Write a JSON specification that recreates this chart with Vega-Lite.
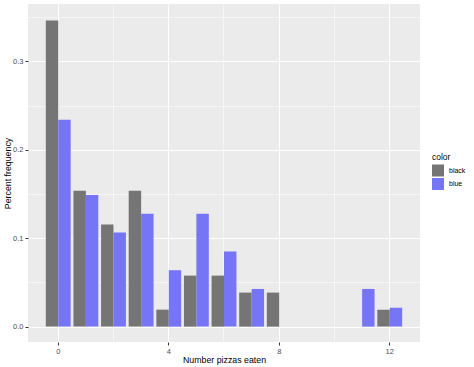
{
  "$schema": "https://vega.github.io/schema/vega-lite/v6.json",
  "width": 392,
  "height": 338,
  "autosize": {"type": "none"},
  "padding": {"left": 28, "top": 4, "right": 54, "bottom": 25},
  "background": "white",
  "config": {
    "font": "Liberation Sans",
    "view": {"fill": "#EBEBEB", "stroke": null},
    "axis": {
      "domain": false,
      "tickColor": "#333333",
      "tickSize": 3,
      "labelColor": "#4D4D4D",
      "labelFontSize": 7.5,
      "titleFontSize": 8.8,
      "titleFontWeight": "normal",
      "titleColor": "black",
      "gridColor": "white"
    },
    "legend": {
      "titleFontSize": 8.5,
      "titleFontWeight": "normal",
      "labelFontSize": 7,
      "labelColor": "black"
    }
  },
  "data": {
    "values": [
      {"pizzas": 0, "color": "black", "freq": 0.3462},
      {"pizzas": 1, "color": "black", "freq": 0.1538},
      {"pizzas": 2, "color": "black", "freq": 0.1154},
      {"pizzas": 3, "color": "black", "freq": 0.1538},
      {"pizzas": 4, "color": "black", "freq": 0.0192},
      {"pizzas": 5, "color": "black", "freq": 0.0577},
      {"pizzas": 6, "color": "black", "freq": 0.0577},
      {"pizzas": 7, "color": "black", "freq": 0.0385},
      {"pizzas": 8, "color": "black", "freq": 0.0385},
      {"pizzas": 12, "color": "black", "freq": 0.0192},
      {"pizzas": 0, "color": "blue", "freq": 0.2340},
      {"pizzas": 1, "color": "blue", "freq": 0.1489},
      {"pizzas": 2, "color": "blue", "freq": 0.1064},
      {"pizzas": 3, "color": "blue", "freq": 0.1277},
      {"pizzas": 4, "color": "blue", "freq": 0.0638},
      {"pizzas": 5, "color": "blue", "freq": 0.1277},
      {"pizzas": 6, "color": "blue", "freq": 0.0851},
      {"pizzas": 7, "color": "blue", "freq": 0.0426},
      {"pizzas": 11, "color": "blue", "freq": 0.0426},
      {"pizzas": 12, "color": "blue", "freq": 0.0213}
    ]
  },
  "mark": {"type": "bar"},
  "encoding": {
    "x": {
      "field": "pizzas",
      "type": "ordinal",
      "title": "Number pizzas eaten",
      "scale": {"domain": [0,1,2,3,4,5,6,7,8,9,10,11,12], "paddingInner": 0.1, "paddingOuter": 0.645},
      "axis": {
        "values": [0,2,4,6,8,10,12],
        "bandPosition": 0.5,
        "labelAngle": 0,
        "labelPadding": 2,
        "titlePadding": 1,
        "grid": true,
        "labelExpr": "datum.value % 4 == 0 ? datum.label : ''",
        "gridWidth": {"condition": {"test": "datum.value % 4 != 0", "value": 0.5}, "value": 1},
        "tickOpacity": {"condition": {"test": "datum.value % 4 != 0", "value": 0}, "value": 1}
      }
    },
    "xOffset": {
      "field": "color",
      "type": "nominal",
      "scale": {"domain": ["black", "blue"], "paddingInner": 0, "paddingOuter": 0}
    },
    "y": {
      "field": "freq",
      "type": "quantitative",
      "title": "Percent frequency",
      "scale": {"domain": [-0.0174, 0.365], "nice": false, "zero": false},
      "axis": {
        "values": [0, 0.05, 0.1, 0.15, 0.2, 0.25, 0.3, 0.35],
        "format": ".1f",
        "labelPadding": 2,
        "titlePadding": 0,
        "grid": true,
        "labelExpr": "round(datum.value*100) % 10 == 0 ? datum.label : ''",
        "gridWidth": {"condition": {"test": "round(datum.value*100) % 10 != 0", "value": 0.5}, "value": 1},
        "tickOpacity": {"condition": {"test": "round(datum.value*100) % 10 != 0", "value": 0}, "value": 1}
      }
    },
    "color": {
      "field": "color",
      "type": "nominal",
      "title": "color",
      "scale": {"domain": ["black", "blue"], "range": ["#757575", "#7575F5"]},
      "legend": {
        "orient": "none",
        "legendX": 404,
        "legendY": 149,
        "titlePadding": 3,
        "symbolType": "square",
        "symbolSize": 144,
        "symbolStrokeWidth": 0,
        "rowPadding": 1.5,
        "labelOffset": 5
      }
    }
  }
}
